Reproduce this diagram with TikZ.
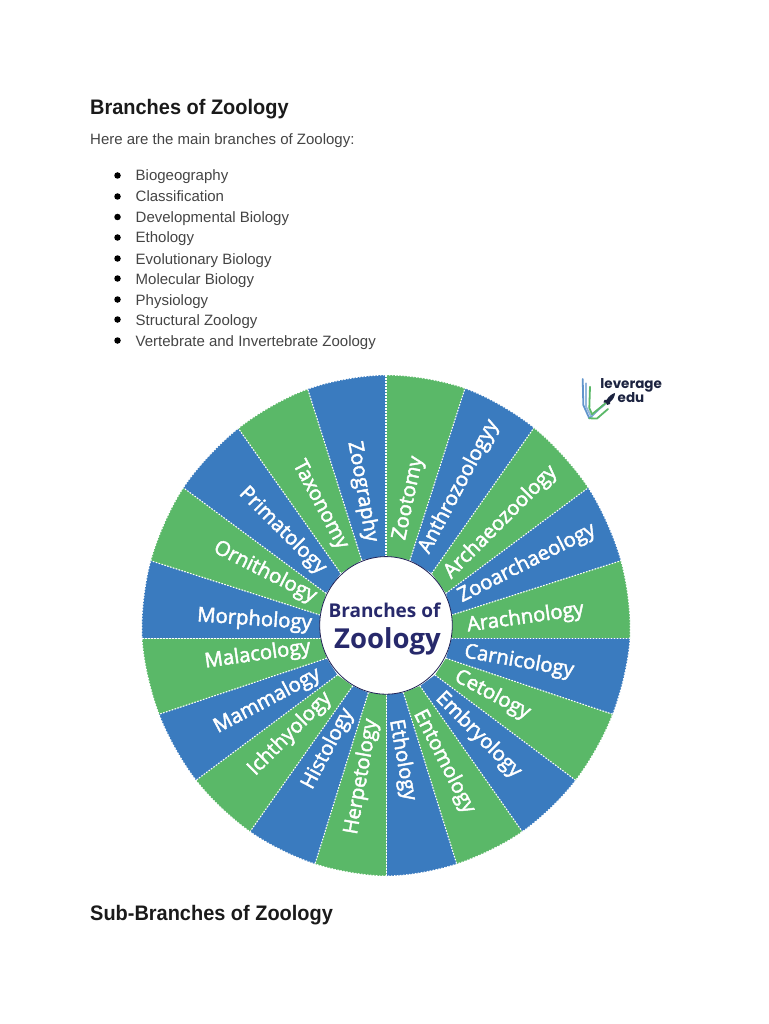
\documentclass[tikz,border=0pt]{standalone}
\usepackage{fontspec}
\usetikzlibrary{calc}
\setmainfont{Liberation Sans}
\newfontfamily\headfont[FakeStretch=0.95,BoldFeatures={FakeStretch=0.95}]{Liberation Sans}
\newfontfamily\wheelfont[FakeBold=2.2]{Open Sans}
\newfontfamily\hubfont{Open Sans}
\newfontfamily\logofont{Poppins}
\definecolor{zblue}{HTML}{3A7BBF}
\definecolor{zgreen}{HTML}{5AB868}
\definecolor{znavy}{HTML}{27296B}
\definecolor{zbody}{HTML}{444444}
\definecolor{zhead}{HTML}{1A1A1A}
\definecolor{zlogo}{HTML}{1C2340}
\tikzset{
  head/.style={anchor=base west,inner sep=0pt,text=zhead,font=\headfont\fontsize{21}{24}\selectfont\bfseries},
  body/.style={anchor=base west,inner sep=0pt,text=zbody,font=\fontsize{15}{17}\selectfont},
  dot/.style={circle,fill=black,inner sep=0pt,minimum size=6.5pt},
  lab/.style={text=white,inner sep=0pt,font=\wheelfont\fontsize{20.3}{22}\selectfont},
  spoke/.style={white,line width=1.1pt,dash pattern=on 1.5pt off 1.5pt},
  logoline/.style={line width=1.8pt,line join=round,line cap=round}
}
\begin{document}
\begin{tikzpicture}[x=1pt,y=-1pt]
\useasboundingbox (0,0) rectangle (768,1024);
\node[head] (title) at (90,114.5) {Branches of Zoology};
\node[body] (intro) at (90,145) {Here are the main branches of Zoology:};
\foreach \n/\yy/\t in {a/181/Biogeography,b/202/Classification,c/222.5/Developmental Biology,d/243/Ethology,e/264/Evolutionary Biology,f/284/Molecular Biology,g/305/Physiology,h/325/Structural Zoology,i/346/Vertebrate and Invertebrate Zoology}{
  \node[body] (item\n) at (135.5,\yy) {\t};
  \node[dot] (dot\n) at (117.5,\yy-5.5) {};
}
\node[head] (subtitle) at (90,920.5) {Sub-Branches of Zoology};

\foreach \k/\rx/\ry/\ix/\iy in {
0/386/375/386/556.7,1/465/388.3/410/560,2/534/427.7/431.7/573.3,3/588.3/487.7/446/593.3,
4/621/560.7/451.7/615,5/630/638.3/451.7/638.3,6/612.7/714.3/446/658.3,7/575.7/780.3/435/675,
8/522.3/831.7/420/686,9/456.7/864/403.3/692.7,10/386.5/876/386.5/694,11/315/864/368.3/692.7,
12/250/831.7/352.7/686,13/196/780.3/337.3/675,14/159/714.3/326.7/658.3,15/142/638.3/320.7/638.3,
16/150.7/560.7/320/615,17/183.3/487.7/326/593.3,18/238.3/428.3/340.7/573.3,19/307.7/389/361.7/560}{
  \coordinate (r\k) at (\rx,\ry);
  \coordinate (i\k) at (\ix,\iy);
}
\begin{scope}
\clip plot[smooth cycle,tension=0.55] coordinates {(r0)(r1)(r2)(r3)(r4)(r5)(r6)(r7)(r8)(r9)(r10)(r11)(r12)(r13)(r14)(r15)(r16)(r17)(r18)(r19)};
\foreach \a/\b/\col in {0/1/zgreen,1/2/zblue,2/3/zgreen,3/4/zblue,4/5/zgreen,5/6/zblue,6/7/zgreen,7/8/zblue,8/9/zgreen,9/10/zblue,10/11/zgreen,11/12/zblue,12/13/zgreen,13/14/zblue,14/15/zgreen,15/16/zblue,16/17/zgreen,17/18/zblue,18/19/zgreen,19/0/zblue}{
  \fill[\col] (i\a) -- ($(i\a)!1.15!(r\a)$) -- ($(i\b)!1.15!(r\b)$) -- (i\b) -- cycle;
}
\end{scope}
\draw[spoke] plot[smooth cycle,tension=0.55] coordinates {(r0)(r1)(r2)(r3)(r4)(r5)(r6)(r7)(r8)(r9)(r10)(r11)(r12)(r13)(r14)(r15)(r16)(r17)(r18)(r19)};
\foreach \k in {0,...,19}{ \draw[spoke] (i\k) -- (r\k); }
\draw[znavy!80!black,line width=0.8pt,fill=white] (386,625.4) ellipse [x radius=66.3,y radius=68.8];

\node[lab,rotate=78] (Zootomy) at (409,498.3) {Zootomy};
\node[lab,rotate=62] (Anthro) at (459,486.7) {Anthrozoologyy};
\node[lab,rotate=45] (Archaeo) at (500.7,522.3) {Archaeozoology};
\node[lab,rotate=27] (Zooarch) at (527,563.3) {Zooarchaeology};
\node[lab,rotate=8] (Arach) at (525.5,618) {Arachnology};
\node[lab,rotate=-10] (Carni) at (519,661.7) {Carnicology};
\node[lab,rotate=-28] (Ceto) at (492.3,695) {Cetology};
\node[lab,rotate=-45] (Embry) at (478.3,735) {Embryology};
\node[lab,rotate=-63] (Ento) at (444,761.7) {Entomology};
\node[lab,rotate=-80] (Etho) at (402.3,760) {Ethology};
\node[lab,rotate=80] (Herp) at (361.7,776.7) {Herpetology};
\node[lab,rotate=62] (Histo) at (328,749) {Histology};
\node[lab,rotate=45] (Ich) at (290,734) {Ichthyology};
\node[lab,rotate=28] (Mammal) at (267.3,701) {Mammalogy};
\node[lab,rotate=8] (Mala) at (257.7,655) {Malacology};
\node[lab,rotate=-4] (Morph) at (254.5,620) {Morphology};
\node[lab,rotate=-27] (Orni) at (265,572.3) {Ornithology};
\node[lab,rotate=-45] (Prima) at (282.5,530.7) {Primatology};
\node[lab,rotate=-62] (Taxo) at (320,505) {Taxonomy};
\node[lab,rotate=-80] (Zoog) at (362.5,491.7) {Zoography};

\node[inner sep=0pt,text=znavy,font=\hubfont\fontsize{19}{22}\selectfont\bfseries] (hubtop) at (384.5,610) {Branches of};
\node[inner sep=0pt,text=znavy,font=\hubfont\fontsize{27.5}{32}\selectfont\bfseries] (hubbottom) at (387.5,641) {Zoology};

% logo
\draw[logoline,zblue!80!white] (582.7,379) -- (583.3,405) -- (589.3,418.3) -- (603.3,405);
\draw[logoline,zblue!55!white] (586,383.3) -- (586,406.7) -- (590.7,415.7) -- (605,404.3);
\draw[logoline,zgreen] (590,386.7) -- (589.3,408) -- (592,414.3) -- (606.7,402.3);
\draw[logoline,zgreen] (589.3,418.3) -- (597,418.5) -- (608,409);
\fill[zlogo] (615,393) .. controls (613,393.5) and (609,395.5) .. (606.5,400) -- (604.5,399.8) -- (603.5,402.5) -- (606,402.5) -- (607,405) -- (610,404) -- (610,402) .. controls (613,400) and (615,396) .. (615,393) -- cycle;
\node[inner sep=0pt,text=zlogo,font=\logofont\fontsize{13.5}{15}\selectfont\bfseries] (logotop) at (631.2,385) {leverage};
\node[inner sep=0pt,text=zlogo,font=\logofont\fontsize{13.5}{15}\selectfont\bfseries] (logobottom) at (631,398) {edu};
\end{tikzpicture}
\end{document}
